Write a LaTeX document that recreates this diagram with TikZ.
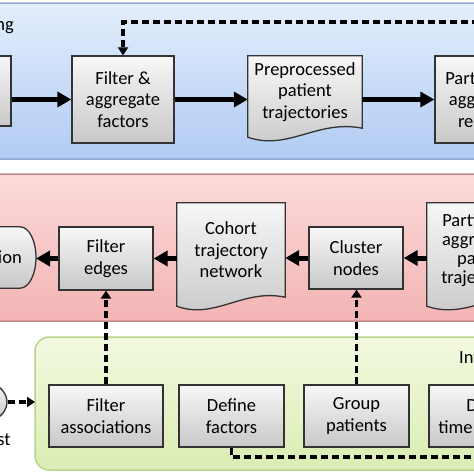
\documentclass[tikz,border=0pt]{standalone}
\usepackage{fontspec}
\setmainfont{Carlito}
\usetikzlibrary{arrows.meta,calc,shapes.geometric}
\pgfdeclarelayer{bg}
\pgfdeclarelayer{shp}
\pgfsetlayers{bg,shp,main}
\definecolor{bluetop}{HTML}{E3EEFC}
\definecolor{bluebot}{HTML}{B1CBF3}
\definecolor{blueline}{HTML}{8FAAD0}
\definecolor{redtop}{HTML}{FCDADA}
\definecolor{redbot}{HTML}{F3B4B4}
\definecolor{redline}{HTML}{C08A8A}
\definecolor{greentop}{HTML}{F3F9E0}
\definecolor{greenbot}{HTML}{DAEDB3}
\definecolor{greenline}{HTML}{B8D48C}
\definecolor{boxtop}{HTML}{F7F7F7}
\definecolor{boxbot}{HTML}{C8C8C8}
\definecolor{edgecol}{HTML}{333333}
\begin{document}
\begin{tikzpicture}[x=1pt,y=-1pt,
  font=\fontsize{18.5}{21.5}\selectfont,
  panel/.style={line width=1.5pt, rounded corners=14pt},
  proc/.style={draw=edgecol, line width=1.3pt, top color=boxtop, bottom color=boxbot, align=center, inner sep=0pt},
  docbox/.style={draw=none, align=center, inner sep=0pt},
  docshade/.style={draw=edgecol, line width=1.3pt, top color=boxtop, bottom color=boxbot},
  flow/.style={line width=5pt, -{Triangle[length=14pt,width=15pt]}},
  dflow/.style={line width=3.2pt, dash pattern=on 7pt off 4pt, -{Triangle[length=8pt,width=10pt]}},
  dline/.style={line width=3.2pt, dash pattern=on 7pt off 4pt},
  panellabel/.style={inner sep=0pt}
]
\useasboundingbox (0,0) rectangle (474,474);
\clip (0,0) rectangle (474,474);

\begin{pgfonlayer}{bg}
\path[panel, top color=bluetop, bottom color=bluebot, draw=blueline] (-20,3) rectangle (494,159);
\path[panel, top color=redtop, bottom color=redbot, draw=redline] (-20,174) rectangle (494,321);
\path[panel, top color=greentop, bottom color=greenbot, draw=greenline] (35,337) rectangle (494,470);
\end{pgfonlayer}

% panel labels
\node[panellabel, anchor=base east] (lblA) at (14,30) {Preprocessing};
\node[panellabel, anchor=base west] (lblC) at (459,363) {Interaction};

% top row
\node[proc, minimum width=61, minimum height=70] (src) at (-19.5,91) {};
\node[proc, minimum width=102, minimum height=87] (filt) at (123,99.5) {Filter \&\\aggregate\\factors};
\node[docbox, minimum width=114, minimum height=72] (prep) at (305,92) {Preprocessed\\patient\\trajectories};
\node[proc, minimum width=102, minimum height=87] (part) at (486,99.5) {Partition \&\\aggregate\\records};

% middle row
\node[docbox, anchor=east, minimum height=61] (vis) at (36,257.5) {Visualization\hspace{14pt}};
\node[proc, minimum width=94, minimum height=63] (fedges) at (106,258.5) {Filter\\edges};
\node[docbox, minimum width=108, minimum height=94] (cohort) at (231,250) {Cohort\\trajectory\\network};
\node[proc, minimum width=94, minimum height=62] (cluster) at (356,258) {Cluster\\nodes};
\node[docbox, minimum width=114, minimum height=94, font=\fontsize{18.5}{19}\selectfont] (ppt) at (484,250) {Partitioned\\aggregated\\patient\\trajectories};

% bottom row
\node[proc, ellipse, minimum width=48, minimum height=40, label={[label distance=10pt, inner sep=0pt]below:Analyst}] (user) at (-17,402) {};
\coordinate (gin) at (35,402);
\node[proc, minimum width=114, minimum height=62] (fassoc) at (106,416) {Filter\\associations};
\node[proc, minimum width=105, minimum height=62] (deff) at (231.5,416) {Define\\factors};
\node[proc, minimum width=105, minimum height=62] (group) at (356.5,416) {Group\\patients};
\node[proc, minimum width=124, minimum height=62] (deft) at (491,416) {Define\\time windows};

% shapes drawn below their text
\begin{pgfonlayer}{shp}
\path[docshade] (prep.north west) -- (prep.north east) -- (prep.south east)
  .. controls ($(prep.south west)!0.61!(prep.south east)+(0,-9)$) and ($(prep.south west)!0.35!(prep.south east)+(0,23)$) .. ($(prep.south west)+(0,9)$) -- cycle;
\path[docshade] (cohort.north west) -- (cohort.north east) -- (cohort.south east)
  .. controls ($(cohort.south west)!0.61!(cohort.south east)+(0,-9)$) and ($(cohort.south west)!0.35!(cohort.south east)+(0,23)$) .. ($(cohort.south west)+(0,9)$) -- cycle;
\path[docshade] (ppt.north west) -- (ppt.north east) -- (ppt.south east)
  .. controls ($(ppt.south west)!0.61!(ppt.south east)+(0,-9)$) and ($(ppt.south west)!0.35!(ppt.south east)+(0,23)$) .. ($(ppt.south west)+(0,9)$) -- cycle;
\path[docshade] ($(vis.north west)+(-30,0)$) -- ($(vis.north east)+(-16,0)$)
  .. controls ($(vis.north east)+(-7,0)$) and ($(vis.east)+(0,-16.8)$) .. (vis.east)
  .. controls ($(vis.east)+(0,16.8)$) and ($(vis.south east)+(-7,0)$) .. ($(vis.south east)+(-16,0)$)
  -- ($(vis.south west)+(-30,0)$) -- cycle;
\end{pgfonlayer}

% solid flows
\draw[flow] (src.east |- filt.west) -- (filt.west);
\draw[flow] (filt.east) -- (filt.east -| prep.west);
\draw[flow] (prep.east |- part.west) -- (part.west);
\draw[flow] (ppt.west |- cluster.east) -- (cluster.east);
\draw[flow] (cluster.west) -- (cluster.west -| cohort.east);
\draw[flow] (cohort.west |- fedges.east) -- (fedges.east);
\draw[flow] (fedges.west) -- (fedges.west -| vis.east);

% dashed flows
\coordinate (topR) at (490,22);
\draw[dflow] (topR) -| (filt.north);
\draw[dflow] (user.east) -- (gin);
\draw[dflow] (fassoc.north) -- (fedges.south);
\draw[dflow] (group.north) -- (group.north |- cluster.south);
\coordinate (botR) at (490,457);
\draw[dline] (deff.south) |- (botR);
\end{tikzpicture}
\end{document}
